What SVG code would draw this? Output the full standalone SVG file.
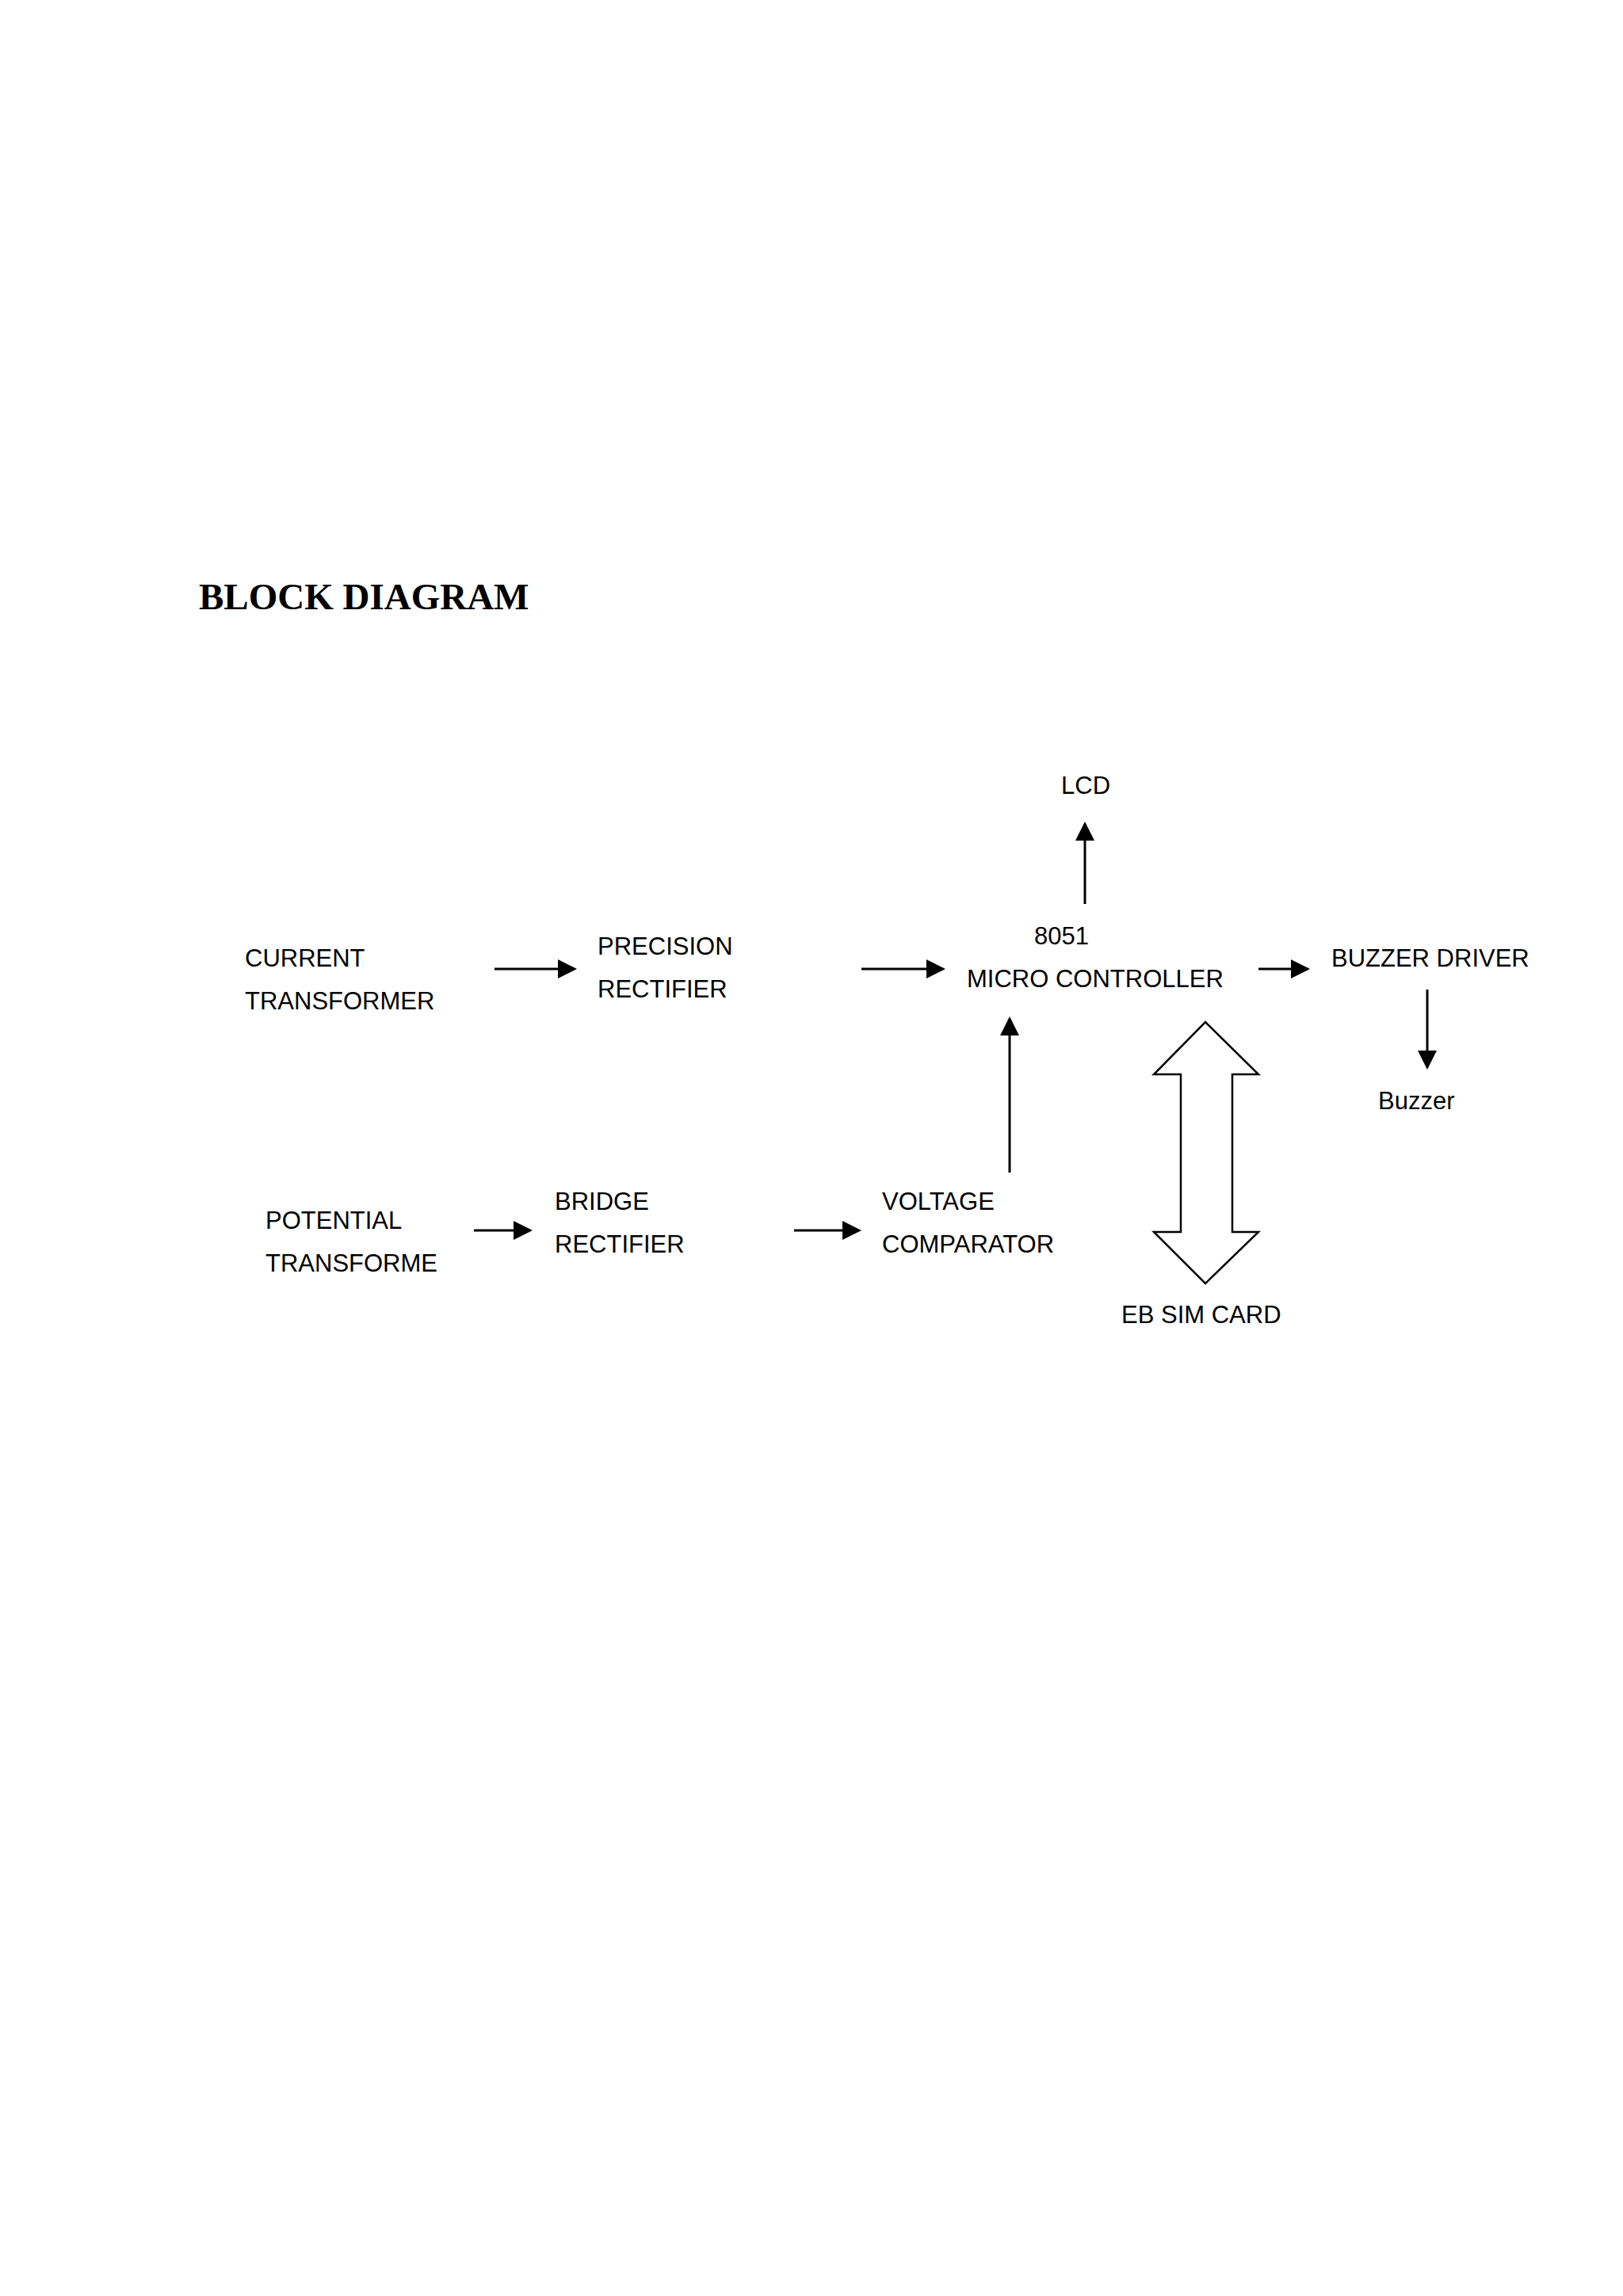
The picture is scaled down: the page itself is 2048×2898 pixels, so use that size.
<svg xmlns="http://www.w3.org/2000/svg" width="2048" height="2898" viewBox="0 0 2048 2898">
<style>
text{font-family:"Liberation Sans",Arial,sans-serif;font-size:31px;fill:#000}
.t{font-family:"Liberation Serif","Times New Roman",serif;font-weight:bold;font-size:47px}
.c{stroke:#000;stroke-width:3;fill:none;marker-end:url(#ah)}
</style>
<defs><marker id="ah" markerWidth="8" markerHeight="8" refX="7" refY="4" orient="auto" markerUnits="strokeWidth"><path d="M0,0 L8,4 L0,8 z" fill="#000"/></marker></defs>
<rect width="2048" height="2898" fill="#fff"/>
<text class="t" x="251" y="769">BLOCK DIAGRAM</text>
<g id="lcd"><text x="1339" y="1002">LCD</text></g>
<g id="mcu"><text x="1305" y="1192">8051</text><text x="1220" y="1246">MICRO CONTROLLER</text></g>
<g id="ct"><text x="309" y="1220">CURRENT</text><text x="309" y="1274">TRANSFORMER</text></g>
<g id="pr"><text x="754" y="1205">PRECISION</text><text x="754" y="1259">RECTIFIER</text></g>
<g id="bd"><text x="1680" y="1220">BUZZER DRIVER</text></g>
<g id="bz"><text x="1739" y="1400">Buzzer</text></g>
<g id="pt"><text x="335" y="1551">POTENTIAL</text><text x="335" y="1605">TRANSFORME</text></g>
<g id="br"><text x="700" y="1527">BRIDGE</text><text x="700" y="1581">RECTIFIER</text></g>
<g id="vc"><text x="1113" y="1527">VOLTAGE</text><text x="1113" y="1581">COMPARATOR</text></g>
<g id="sim"><text x="1415" y="1670">EB SIM CARD</text></g>
<g id="connectors">
<line class="c" x1="1369" y1="1141" x2="1369" y2="1040"/>
<line class="c" x1="624" y1="1223" x2="725" y2="1223"/>
<line class="c" x1="1087" y1="1223" x2="1190" y2="1223"/>
<line class="c" x1="1588" y1="1223" x2="1650" y2="1223"/>
<line class="c" x1="1801" y1="1249" x2="1801" y2="1347"/>
<line class="c" x1="1274" y1="1480" x2="1274" y2="1286"/>
<line class="c" x1="598" y1="1553" x2="669" y2="1553"/>
<line class="c" x1="1002" y1="1553" x2="1084" y2="1553"/>
<path d="M1521,1290 L1588,1356 L1555,1356 L1555,1555 L1588,1555 L1521,1620 L1456,1555 L1490,1555 L1490,1356 L1456,1356 Z" fill="#fff" stroke="#000" stroke-width="2.5"/>
</g>
</svg>
